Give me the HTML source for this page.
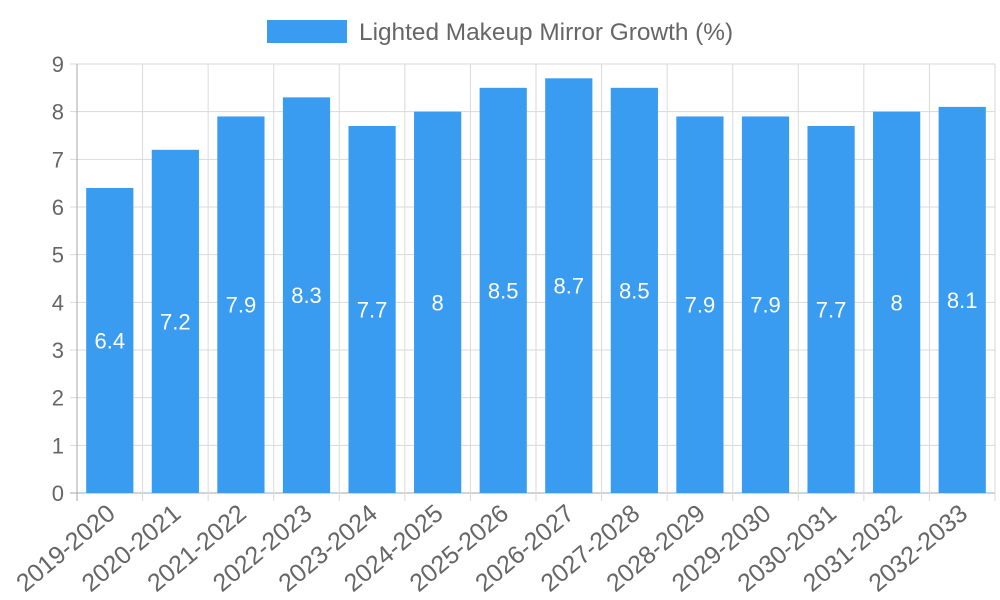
<!DOCTYPE html>
<html><head><meta charset="utf-8"><style>
body{margin:0;background:#fff;}
svg{font-family:"Liberation Sans",sans-serif;display:block}
</style></head><body>
<svg id="c" width="1000" height="600">
<g>
<rect x="267" y="20" width="80" height="23" fill="#3a9cf0"/>
<text x="359" y="40" font-size="24.4" fill="#666">Lighted Makeup Mirror Growth (%)</text>
</g>
</svg>
<script>
const categories=["2019-2020","2020-2021","2021-2022","2022-2023","2023-2024","2024-2025","2025-2026","2026-2027","2027-2028","2028-2029","2029-2030","2030-2031","2031-2032","2032-2033"];
const values=[6.4,7.2,7.9,8.3,7.7,8,8.5,8.7,8.5,7.9,7.9,7.7,8,8.1];
const yTicks=[0,1,2,3,4,5,6,7,8,9];
const svg=document.getElementById('c');
const NS='http://www.w3.org/2000/svg';
const L=77,R=995,T=64,B=493,yMax=9;
const bw=(R-L)/categories.length;
const y=v=>B-(B-T)*v/yMax;
const x=i=>L+bw*i;
function mk(t,a,p){const e=document.createElementNS(NS,t);for(const k in a)e.setAttribute(k,a[k]);(p||svg).appendChild(e);return e;}
const grid=mk('g',{});


yTicks.forEach(t=>{
  const l=mk('line',{x1:L-7,x2:R,y1:y(t),y2:y(t),stroke:t===0?'#aaa':'#dadada','stroke-width':1},grid);
  
  
  const tx=mk('text',{x:L-13,y:y(t)+8,'text-anchor':'end','font-size':22,fill:'#666'});
  tx.textContent=t;
  
  
});
for(let i=0;i<=categories.length;i++){
  const l=mk('line',{x1:x(i),x2:x(i),y1:T,y2:B+8,stroke:i===0?'#aaa':'#dadada','stroke-width':1},grid);
  
  
}
categories.forEach((c,i)=>{
  const cx=x(i)+bw/2, w=bw*0.72;
  const r=mk('rect',{x:cx-w/2,y:y(values[i]),width:w,height:B-y(values[i]),fill:'#3a9cf0'});
  
  
  const v=mk('text',{x:cx,y:(y(values[i])+B)/2+8,'text-anchor':'middle','font-size':22,fill:'#fff'});
  v.textContent=values[i];
  
  
  const t=mk('text',{x:cx+7,y:B+23,'text-anchor':'end','font-size':25,fill:'#666',transform:`rotate(-40 ${cx+7} ${B+23})`});
  t.textContent=c;
  
  
});
</script>
</body></html>
